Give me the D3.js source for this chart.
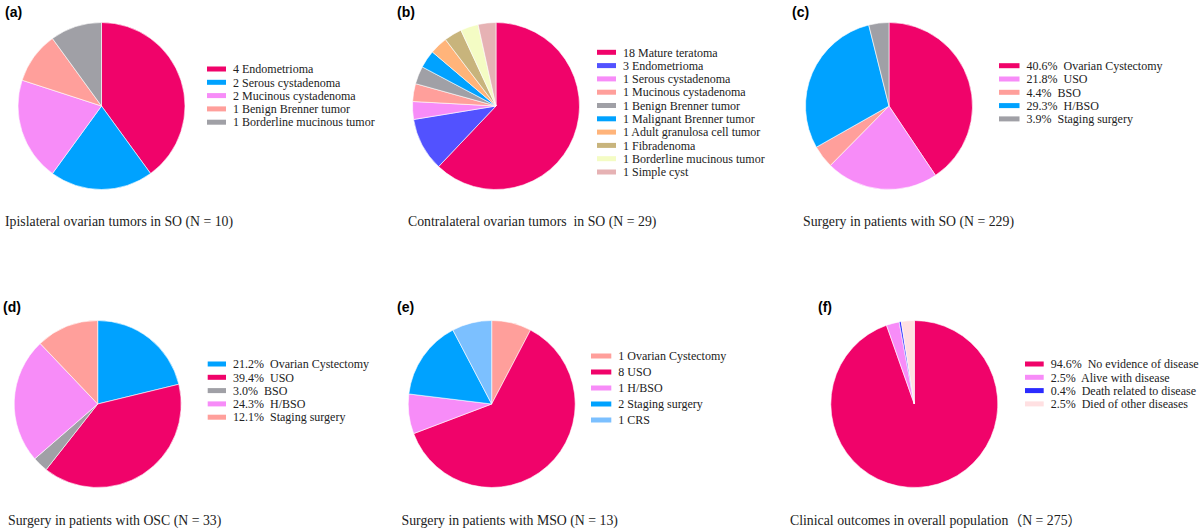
<!DOCTYPE html>
<html>
<head>
<meta charset="utf-8">
<script src="https://cdn.jsdelivr.net/npm/d3@7"></script>
<style>
  body { margin: 0; background: #fff; }
</style>
</head>
<body>
<svg width="1200" height="530"></svg>
<script>
// colours used across panels
const PINK = "#f0036a", BLUE = "#00a2ff", LILAC = "#f78cf8", SALMON = "#ff9f9b", GREY = "#a0a0a6";

// (a) ipsilateral tumours
const aLabels = ["4 Endometrioma", "2 Serous cystadenoma", "2 Mucinous cystadenoma", "1 Benign Brenner tumor", "1 Borderline mucinous tumor"];
const aValues = [4, 2, 2, 1, 1];
const aColors = [PINK, BLUE, LILAC, SALMON, GREY];

// (b) contralateral tumours
const bLabels = ["18 Mature teratoma", "3 Endometrioma", "1 Serous cystadenoma", "1 Mucinous cystadenoma", "1 Benign Brenner tumor",
  "1 Malignant Brenner tumor", "1 Adult granulosa cell tumor", "1 Fibradenoma", "1 Borderline mucinous tumor", "1 Simple cyst"];
const bValues = [18, 3, 1, 1, 1, 1, 1, 1, 1, 1];
const bColors = [PINK, "#5252ff", LILAC, SALMON, GREY, BLUE, "#ffb47a", "#c8b47c", "#f4fcc4", "#e6b2b4"];

// (c) surgery SO
const cLabels = ["40.6%  Ovarian Cystectomy", "21.8%  USO", "4.4%  BSO", "29.3%  H/BSO", "3.9%  Staging surgery"];
const cValues = [40.6, 21.8, 4.4, 29.3, 3.9];
const cColors = [PINK, LILAC, SALMON, BLUE, GREY];

// (d) surgery OSC
const dLabels = ["21.2%  Ovarian Cystectomy", "39.4%  USO", "3.0%  BSO", "24.3%  H/BSO", "12.1%  Staging surgery"];
const dValues = [21.2, 39.4, 3.0, 24.3, 12.1];
const dColors = [BLUE, PINK, GREY, LILAC, SALMON];

// (e) surgery MSO
const eLabels = ["1 Ovarian Cystectomy", "8 USO", "1 H/BSO", "2 Staging surgery", "1 CRS"];
const eValues = [1, 8, 1, 2, 1];
const eColors = [SALMON, PINK, LILAC, BLUE, "#7cc0ff"];

// (f) outcomes
const fLabels = ["94.6%  No evidence of disease", "2.5%  Alive with disease", "0.4%  Death related to disease", "2.5%  Died of other diseases"];
const fValues = [94.6, 2.5, 0.4, 2.5];
const fColors = [PINK, LILAC, "#2b2bff", "#ffe0e2"];

const panels = [
  { tag: "(a)", tx: 5, ty: 17, cx: 101.5, cy: 106, lx: 207, ly: 69, step: 13.3, tx2: 233, capx: 5, capy: 226,
    cap: "Ipislateral ovarian tumors in SO (N = 10)", labels: aLabels, values: aValues, colors: aColors },
  { tag: "(b)", tx: 397, ty: 17, cx: 496, cy: 106, lx: 597, ly: 52.3, step: 13.3, tx2: 623, capx: 408, capy: 226,
    cap: "Contralateral ovarian tumors  in SO (N = 29)", labels: bLabels, values: bValues, colors: bColors },
  { tag: "(c)", tx: 792, ty: 17, cx: 889, cy: 106, lx: 999, ly: 65.7, step: 13.3, tx2: 1026.5, capx: 803, capy: 226,
    cap: "Surgery in patients with SO (N = 229)", labels: cLabels, values: cValues, colors: cColors },
  { tag: "(d)", tx: 3, ty: 312, cx: 97.7, cy: 404, lx: 207.7, ly: 364, step: 13.3, tx2: 233, capx: 8, capy: 525,
    cap: "Surgery in patients with OSC (N = 33)", labels: dLabels, values: dValues, colors: dColors },
  { tag: "(e)", tx: 397, ty: 312, cx: 491.7, cy: 404, lx: 591, ly: 356, step: 16, tx2: 618.3, capx: 401.5, capy: 525,
    cap: "Surgery in patients with MSO (N = 13)", labels: eLabels, values: eValues, colors: eColors },
  { tag: "(f)", tx: 818, ty: 312, cx: 914.3, cy: 404, lx: 1025, ly: 364, step: 13.3, tx2: 1050.7, capx: 790, capy: 525,
    cap: "Clinical outcomes in overall population（N = 275）", labels: fLabels, values: fValues, colors: fColors }
];

const SERIF = "'Liberation Serif', 'Times New Roman', 'Noto Sans CJK SC', serif";
const svg = d3.select("svg");
const radius = 83.5;
const pie = d3.pie().sort(null);
const arc = d3.arc().innerRadius(0).outerRadius(radius);

panels.forEach(p => {
  svg.append("text")
    .attr("x", p.tx).attr("y", p.ty)
    .attr("font-family", "'Liberation Sans', Arial, sans-serif")
    .attr("font-weight", "bold").attr("font-size", 14)
    .text(p.tag);

  const color = d3.scaleOrdinal().domain(p.labels).range(p.colors);
  const arcs = pie(p.values);

  svg.append("g")
    .attr("transform", `translate(${p.cx},${p.cy})`)
    .selectAll("path")
    .data(arcs)
    .join("path")
    .attr("d", arc)
    .attr("fill", (d, i) => color(p.labels[i]))
    .attr("stroke", "#fff")
    .attr("stroke-width", 0.6);

  // legend rows
  const y = d3.scalePoint().domain(p.labels).range([p.ly, p.ly + p.step * (p.labels.length - 1)]);
  const leg = svg.append("g");
  leg.selectAll("rect")
    .data(p.labels)
    .join("rect")
    .attr("x", p.lx).attr("y", d => y(d) - 2.5)
    .attr("width", p.tx2 - p.lx - 7).attr("height", 5)
    .attr("fill", d => color(d));
  leg.selectAll("text")
    .data(p.labels)
    .join("text")
    .attr("x", p.tx2).attr("y", d => y(d) + 4.2)
    .attr("font-family", SERIF).attr("font-size", 12).attr("fill", "#222")
    .style("white-space", "pre")
    .text(d => d);

  svg.append("text")
    .attr("x", p.capx).attr("y", p.capy)
    .attr("font-family", SERIF).attr("font-size", 13.8).attr("fill", "#222")
    .style("white-space", "pre")
    .text(p.cap);
});
</script>
</body>
</html>
